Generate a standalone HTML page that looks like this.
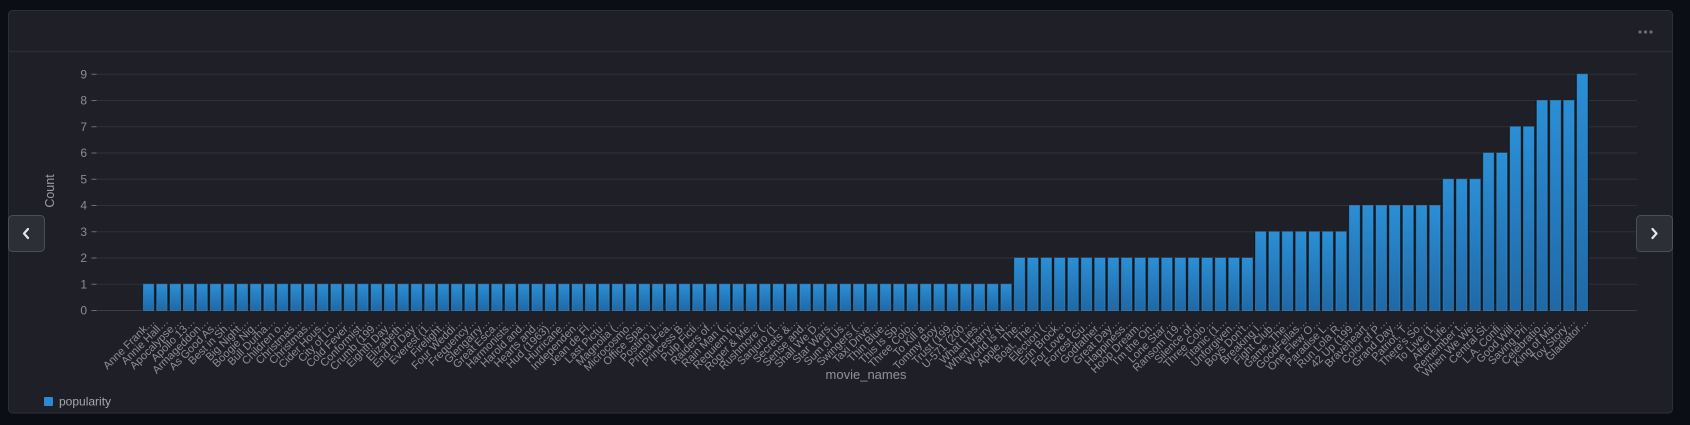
<!DOCTYPE html>
<html><head><meta charset="utf-8"><style>
html,body{margin:0;padding:0;background:#0b0e15;width:1690px;height:425px;overflow:hidden}
svg{display:block}
text{font-family:"Liberation Sans",sans-serif}
.yt{font-size:12px;fill:#8a8d93;text-anchor:end}
.xl{font-size:11px;fill:#8d9096;text-anchor:end}
</style></head><body>
<svg width="1690" height="425" viewBox="0 0 1690 425" xmlns="http://www.w3.org/2000/svg">
<defs>
<linearGradient id="bg" x1="0" y1="0" x2="0" y2="1"><stop offset="0" stop-color="#2b8fd6"/><stop offset="1" stop-color="#2068a6"/></linearGradient>
</defs>
<rect x="0" y="0" width="1690" height="425" fill="#0b0e15"/>
<rect x="8.5" y="10.5" width="1664" height="402.5" rx="4" fill="#1f2027" stroke="#2e3037"/>
<line x1="9" y1="51.5" x2="1672" y2="51.5" stroke="#2b2d34" stroke-width="1.5"/>
<circle cx="1640" cy="32" r="1.6" fill="#6a6d74"/><circle cx="1645.5" cy="32" r="1.6" fill="#6a6d74"/><circle cx="1651" cy="32" r="1.6" fill="#6a6d74"/>
<!-- grid -->
<g stroke="#2f3138" stroke-width="1">
<line x1="96.5" y1="74.25" x2="1637" y2="74.25"/><line x1="96.5" y1="100.5" x2="1637" y2="100.5"/><line x1="96.5" y1="126.75" x2="1637" y2="126.75"/><line x1="96.5" y1="153" x2="1637" y2="153"/><line x1="96.5" y1="179.25" x2="1637" y2="179.25"/><line x1="96.5" y1="205.5" x2="1637" y2="205.5"/><line x1="96.5" y1="231.75" x2="1637" y2="231.75"/><line x1="96.5" y1="258" x2="1637" y2="258"/><line x1="96.5" y1="284.25" x2="1637" y2="284.25"/><line x1="96.5" y1="310.5" x2="1637" y2="310.5" stroke="#3a3c43"/>
</g>
<g stroke="#6b6e75" stroke-width="1">
<line x1="91.5" y1="74.25" x2="96.5" y2="74.25"/><line x1="91.5" y1="100.5" x2="96.5" y2="100.5"/><line x1="91.5" y1="126.75" x2="96.5" y2="126.75"/><line x1="91.5" y1="153" x2="96.5" y2="153"/><line x1="91.5" y1="179.25" x2="96.5" y2="179.25"/><line x1="91.5" y1="205.5" x2="96.5" y2="205.5"/><line x1="91.5" y1="231.75" x2="96.5" y2="231.75"/><line x1="91.5" y1="258" x2="96.5" y2="258"/><line x1="91.5" y1="284.25" x2="96.5" y2="284.25"/><line x1="91.5" y1="310.5" x2="96.5" y2="310.5"/>
</g>
<g class="yt">
<text x="87" y="78.5" class="yt">9</text><text x="87" y="104.7" class="yt">8</text><text x="87" y="131" class="yt">7</text><text x="87" y="157.2" class="yt">6</text><text x="87" y="183.5" class="yt">5</text><text x="87" y="209.7" class="yt">4</text><text x="87" y="236" class="yt">3</text><text x="87" y="262.2" class="yt">2</text><text x="87" y="288.5" class="yt">1</text><text x="87" y="314.7" class="yt">0</text>
</g>
<text transform="translate(54 191) rotate(-90)" text-anchor="middle" font-size="12.5" fill="#9a9ca2">Count</text>
<text x="866" y="379" text-anchor="middle" font-size="13" fill="#8f9298">movie_names</text>
<!-- dark backing -->
<g fill="#0f1924">
<rect x="141.8" y="284.25" width="871" height="26.25"/>
<rect x="1012.8" y="258" width="241.2" height="52.5"/>
<rect x="1254" y="231.75" width="93.8" height="78.75"/>
<rect x="1347.8" y="205.5" width="93.8" height="105"/>
<rect x="1441.6" y="179.25" width="40.2" height="131.25"/>
<rect x="1481.8" y="153" width="26.8" height="157.5"/>
<rect x="1508.6" y="126.75" width="26.8" height="183.75"/>
<rect x="1535.4" y="100.5" width="40.2" height="210"/>
<rect x="1575.6" y="74.25" width="13.4" height="236.25"/>
</g>
<g fill="url(#bg)" stroke="#3f9bd8" stroke-opacity="0.45" stroke-width="1">
<rect x="143.3" y="284.25" width="10.4" height="26.25"/><rect x="156.7" y="284.25" width="10.4" height="26.25"/><rect x="170.1" y="284.25" width="10.4" height="26.25"/><rect x="183.5" y="284.25" width="10.4" height="26.25"/><rect x="196.9" y="284.25" width="10.4" height="26.25"/><rect x="210.3" y="284.25" width="10.4" height="26.25"/><rect x="223.7" y="284.25" width="10.4" height="26.25"/><rect x="237.1" y="284.25" width="10.4" height="26.25"/><rect x="250.5" y="284.25" width="10.4" height="26.25"/><rect x="263.9" y="284.25" width="10.4" height="26.25"/>
<rect x="277.3" y="284.25" width="10.4" height="26.25"/><rect x="290.7" y="284.25" width="10.4" height="26.25"/><rect x="304.1" y="284.25" width="10.4" height="26.25"/><rect x="317.5" y="284.25" width="10.4" height="26.25"/><rect x="330.9" y="284.25" width="10.4" height="26.25"/><rect x="344.3" y="284.25" width="10.4" height="26.25"/><rect x="357.7" y="284.25" width="10.4" height="26.25"/><rect x="371.1" y="284.25" width="10.4" height="26.25"/><rect x="384.5" y="284.25" width="10.4" height="26.25"/><rect x="397.9" y="284.25" width="10.4" height="26.25"/>
<rect x="411.3" y="284.25" width="10.4" height="26.25"/><rect x="424.7" y="284.25" width="10.4" height="26.25"/><rect x="438.1" y="284.25" width="10.4" height="26.25"/><rect x="451.5" y="284.25" width="10.4" height="26.25"/><rect x="464.9" y="284.25" width="10.4" height="26.25"/><rect x="478.3" y="284.25" width="10.4" height="26.25"/><rect x="491.7" y="284.25" width="10.4" height="26.25"/><rect x="505.1" y="284.25" width="10.4" height="26.25"/><rect x="518.5" y="284.25" width="10.4" height="26.25"/><rect x="531.9" y="284.25" width="10.4" height="26.25"/>
<rect x="545.3" y="284.25" width="10.4" height="26.25"/><rect x="558.7" y="284.25" width="10.4" height="26.25"/><rect x="572.1" y="284.25" width="10.4" height="26.25"/><rect x="585.5" y="284.25" width="10.4" height="26.25"/><rect x="598.9" y="284.25" width="10.4" height="26.25"/><rect x="612.3" y="284.25" width="10.4" height="26.25"/><rect x="625.7" y="284.25" width="10.4" height="26.25"/><rect x="639.1" y="284.25" width="10.4" height="26.25"/><rect x="652.5" y="284.25" width="10.4" height="26.25"/><rect x="665.9" y="284.25" width="10.4" height="26.25"/>
<rect x="679.3" y="284.25" width="10.4" height="26.25"/><rect x="692.7" y="284.25" width="10.4" height="26.25"/><rect x="706.1" y="284.25" width="10.4" height="26.25"/><rect x="719.5" y="284.25" width="10.4" height="26.25"/><rect x="732.9" y="284.25" width="10.4" height="26.25"/><rect x="746.3" y="284.25" width="10.4" height="26.25"/><rect x="759.7" y="284.25" width="10.4" height="26.25"/><rect x="773.1" y="284.25" width="10.4" height="26.25"/><rect x="786.5" y="284.25" width="10.4" height="26.25"/><rect x="799.9" y="284.25" width="10.4" height="26.25"/>
<rect x="813.3" y="284.25" width="10.4" height="26.25"/><rect x="826.7" y="284.25" width="10.4" height="26.25"/><rect x="840.1" y="284.25" width="10.4" height="26.25"/><rect x="853.5" y="284.25" width="10.4" height="26.25"/><rect x="866.9" y="284.25" width="10.4" height="26.25"/><rect x="880.3" y="284.25" width="10.4" height="26.25"/><rect x="893.7" y="284.25" width="10.4" height="26.25"/><rect x="907.1" y="284.25" width="10.4" height="26.25"/><rect x="920.5" y="284.25" width="10.4" height="26.25"/><rect x="933.9" y="284.25" width="10.4" height="26.25"/>
<rect x="947.3" y="284.25" width="10.4" height="26.25"/><rect x="960.7" y="284.25" width="10.4" height="26.25"/><rect x="974.1" y="284.25" width="10.4" height="26.25"/><rect x="987.5" y="284.25" width="10.4" height="26.25"/><rect x="1000.9" y="284.25" width="10.4" height="26.25"/>
<rect x="1014.3" y="258" width="10.4" height="52.5"/><rect x="1027.7" y="258" width="10.4" height="52.5"/><rect x="1041.1" y="258" width="10.4" height="52.5"/><rect x="1054.5" y="258" width="10.4" height="52.5"/><rect x="1067.9" y="258" width="10.4" height="52.5"/><rect x="1081.3" y="258" width="10.4" height="52.5"/><rect x="1094.7" y="258" width="10.4" height="52.5"/><rect x="1108.1" y="258" width="10.4" height="52.5"/><rect x="1121.5" y="258" width="10.4" height="52.5"/><rect x="1134.9" y="258" width="10.4" height="52.5"/><rect x="1148.3" y="258" width="10.4" height="52.5"/><rect x="1161.7" y="258" width="10.4" height="52.5"/><rect x="1175.1" y="258" width="10.4" height="52.5"/><rect x="1188.5" y="258" width="10.4" height="52.5"/><rect x="1201.9" y="258" width="10.4" height="52.5"/><rect x="1215.3" y="258" width="10.4" height="52.5"/><rect x="1228.7" y="258" width="10.4" height="52.5"/><rect x="1242.1" y="258" width="10.4" height="52.5"/>
<rect x="1255.5" y="231.75" width="10.4" height="78.75"/><rect x="1268.9" y="231.75" width="10.4" height="78.75"/><rect x="1282.3" y="231.75" width="10.4" height="78.75"/><rect x="1295.7" y="231.75" width="10.4" height="78.75"/><rect x="1309.1" y="231.75" width="10.4" height="78.75"/><rect x="1322.5" y="231.75" width="10.4" height="78.75"/><rect x="1335.9" y="231.75" width="10.4" height="78.75"/>
<rect x="1349.3" y="205.5" width="10.4" height="105"/><rect x="1362.7" y="205.5" width="10.4" height="105"/><rect x="1376.1" y="205.5" width="10.4" height="105"/><rect x="1389.5" y="205.5" width="10.4" height="105"/><rect x="1402.9" y="205.5" width="10.4" height="105"/><rect x="1416.3" y="205.5" width="10.4" height="105"/><rect x="1429.7" y="205.5" width="10.4" height="105"/>
<rect x="1443.1" y="179.25" width="10.4" height="131.25"/><rect x="1456.5" y="179.25" width="10.4" height="131.25"/><rect x="1469.9" y="179.25" width="10.4" height="131.25"/>
<rect x="1483.3" y="153" width="10.4" height="157.5"/><rect x="1496.7" y="153" width="10.4" height="157.5"/>
<rect x="1510.1" y="126.75" width="10.4" height="183.75"/><rect x="1523.5" y="126.75" width="10.4" height="183.75"/>
<rect x="1536.9" y="100.5" width="10.4" height="210"/><rect x="1550.3" y="100.5" width="10.4" height="210"/><rect x="1563.7" y="100.5" width="10.4" height="210"/>
<rect x="1577.1" y="74.25" width="10.4" height="236.25"/>
</g>
<!-- x labels -->
<g class="xl">
<text class="xl" transform="translate(155.5 322) rotate(-45)">Anne Frank…</text>
<text class="xl" transform="translate(168.9 322) rotate(-45)">Annie Hall…</text>
<text class="xl" transform="translate(182.3 322) rotate(-45)">Apocalypse…</text>
<text class="xl" transform="translate(195.7 322) rotate(-45)">Apollo 13…</text>
<text class="xl" transform="translate(209.1 322) rotate(-45)">Armageddon…</text>
<text class="xl" transform="translate(222.5 322) rotate(-45)">As Good As…</text>
<text class="xl" transform="translate(235.9 322) rotate(-45)">Best in Sh…</text>
<text class="xl" transform="translate(249.3 322) rotate(-45)">Big Night…</text>
<text class="xl" transform="translate(262.7 322) rotate(-45)">Boogie Nig…</text>
<text class="xl" transform="translate(276.1 322) rotate(-45)">Bull Durha…</text>
<text class="xl" transform="translate(289.5 322) rotate(-45)">Children o…</text>
<text class="xl" transform="translate(302.9 322) rotate(-45)">Christmas…</text>
<text class="xl" transform="translate(316.3 322) rotate(-45)">Christmas…</text>
<text class="xl" transform="translate(329.7 322) rotate(-45)">Cider Hous…</text>
<text class="xl" transform="translate(343.1 322) rotate(-45)">City of Lo…</text>
<text class="xl" transform="translate(356.5 322) rotate(-45)">Cold Fever…</text>
<text class="xl" transform="translate(369.9 322) rotate(-45)">Conformist…</text>
<text class="xl" transform="translate(383.3 322) rotate(-45)">Crumb (199…</text>
<text class="xl" transform="translate(396.7 322) rotate(-45)">Eighth Day…</text>
<text class="xl" transform="translate(410.1 322) rotate(-45)">Elizabeth…</text>
<text class="xl" transform="translate(423.5 322) rotate(-45)">End of Day…</text>
<text class="xl" transform="translate(436.9 322) rotate(-45)">Everest (1…</text>
<text class="xl" transform="translate(450.3 322) rotate(-45)">Firelight…</text>
<text class="xl" transform="translate(463.7 322) rotate(-45)">Four Weddi…</text>
<text class="xl" transform="translate(477.1 322) rotate(-45)">Frequency…</text>
<text class="xl" transform="translate(490.5 322) rotate(-45)">Glengarry…</text>
<text class="xl" transform="translate(503.9 322) rotate(-45)">Great Esca…</text>
<text class="xl" transform="translate(517.3 322) rotate(-45)">Harmonists…</text>
<text class="xl" transform="translate(530.7 322) rotate(-45)">Harold and…</text>
<text class="xl" transform="translate(544.1 322) rotate(-45)">Hearts and…</text>
<text class="xl" transform="translate(557.5 322) rotate(-45)">Hud (1963)…</text>
<text class="xl" transform="translate(570.9 322) rotate(-45)">Hurricane…</text>
<text class="xl" transform="translate(584.3 322) rotate(-45)">Independen…</text>
<text class="xl" transform="translate(597.7 322) rotate(-45)">Jean de Fl…</text>
<text class="xl" transform="translate(611.1 322) rotate(-45)">Last Pictu…</text>
<text class="xl" transform="translate(624.5 322) rotate(-45)">Magnolia (…</text>
<text class="xl" transform="translate(637.9 322) rotate(-45)">Microcosmo…</text>
<text class="xl" transform="translate(651.3 322) rotate(-45)">Office Spa…</text>
<text class="xl" transform="translate(664.7 322) rotate(-45)">Postino, I…</text>
<text class="xl" transform="translate(678.1 322) rotate(-45)">Primal Fea…</text>
<text class="xl" transform="translate(691.5 322) rotate(-45)">Princess B…</text>
<text class="xl" transform="translate(704.9 322) rotate(-45)">Pulp Ficti…</text>
<text class="xl" transform="translate(718.3 322) rotate(-45)">Raiders of…</text>
<text class="xl" transform="translate(731.7 322) rotate(-45)">Rain Man (…</text>
<text class="xl" transform="translate(745.1 322) rotate(-45)">Requiem fo…</text>
<text class="xl" transform="translate(758.5 322) rotate(-45)">Roger &amp; Me…</text>
<text class="xl" transform="translate(771.9 322) rotate(-45)">Rushmore (…</text>
<text class="xl" transform="translate(785.3 322) rotate(-45)">Sanjuro (1…</text>
<text class="xl" transform="translate(798.7 322) rotate(-45)">Secrets &amp;…</text>
<text class="xl" transform="translate(812.1 322) rotate(-45)">Sense and…</text>
<text class="xl" transform="translate(825.5 322) rotate(-45)">Shall We D…</text>
<text class="xl" transform="translate(838.9 322) rotate(-45)">Star Wars…</text>
<text class="xl" transform="translate(852.3 322) rotate(-45)">Sum of Us…</text>
<text class="xl" transform="translate(865.7 322) rotate(-45)">Swingers (…</text>
<text class="xl" transform="translate(879.1 322) rotate(-45)">Taxi Drive…</text>
<text class="xl" transform="translate(892.5 322) rotate(-45)">Thin Blue…</text>
<text class="xl" transform="translate(905.9 322) rotate(-45)">This Is Sp…</text>
<text class="xl" transform="translate(919.3 322) rotate(-45)">Three Colo…</text>
<text class="xl" transform="translate(932.7 322) rotate(-45)">To Kill a…</text>
<text class="xl" transform="translate(946.1 322) rotate(-45)">Tommy Boy…</text>
<text class="xl" transform="translate(959.5 322) rotate(-45)">Trust (199…</text>
<text class="xl" transform="translate(972.9 322) rotate(-45)">U-571 (200…</text>
<text class="xl" transform="translate(986.3 322) rotate(-45)">What Lies…</text>
<text class="xl" transform="translate(999.7 322) rotate(-45)">When Harry…</text>
<text class="xl" transform="translate(1013.1 322) rotate(-45)">World Is N…</text>
<text class="xl" transform="translate(1026.5 322) rotate(-45)">Apple, The…</text>
<text class="xl" transform="translate(1039.9 322) rotate(-45)">Boat, The…</text>
<text class="xl" transform="translate(1053.3 322) rotate(-45)">Election (…</text>
<text class="xl" transform="translate(1066.7 322) rotate(-45)">Erin Brock…</text>
<text class="xl" transform="translate(1080.1 322) rotate(-45)">For Love o…</text>
<text class="xl" transform="translate(1093.5 322) rotate(-45)">Forrest Gu…</text>
<text class="xl" transform="translate(1106.9 322) rotate(-45)">Godfather…</text>
<text class="xl" transform="translate(1120.3 322) rotate(-45)">Great Day…</text>
<text class="xl" transform="translate(1133.7 322) rotate(-45)">Happiness…</text>
<text class="xl" transform="translate(1147.1 322) rotate(-45)">Hoop Dream…</text>
<text class="xl" transform="translate(1160.5 322) rotate(-45)">I'm the On…</text>
<text class="xl" transform="translate(1173.9 322) rotate(-45)">Lone Star…</text>
<text class="xl" transform="translate(1187.3 322) rotate(-45)">Ransom (19…</text>
<text class="xl" transform="translate(1200.7 322) rotate(-45)">Silence of…</text>
<text class="xl" transform="translate(1214.1 322) rotate(-45)">Three Colo…</text>
<text class="xl" transform="translate(1227.5 322) rotate(-45)">Titanic (1…</text>
<text class="xl" transform="translate(1240.9 322) rotate(-45)">Unforgiven…</text>
<text class="xl" transform="translate(1254.3 322) rotate(-45)">Boys Don't…</text>
<text class="xl" transform="translate(1267.7 322) rotate(-45)">Breaking I…</text>
<text class="xl" transform="translate(1281.1 322) rotate(-45)">Fight Club…</text>
<text class="xl" transform="translate(1294.5 322) rotate(-45)">Game, The…</text>
<text class="xl" transform="translate(1307.9 322) rotate(-45)">GoodFellas…</text>
<text class="xl" transform="translate(1321.3 322) rotate(-45)">One Flew O…</text>
<text class="xl" transform="translate(1334.7 322) rotate(-45)">Paradise L…</text>
<text class="xl" transform="translate(1348.1 322) rotate(-45)">Run Lola R…</text>
<text class="xl" transform="translate(1361.5 322) rotate(-45)">42 Up (199…</text>
<text class="xl" transform="translate(1374.9 322) rotate(-45)">Braveheart…</text>
<text class="xl" transform="translate(1388.3 322) rotate(-45)">Color of P…</text>
<text class="xl" transform="translate(1401.7 322) rotate(-45)">Grand Day…</text>
<text class="xl" transform="translate(1415.1 322) rotate(-45)">Patriot, T…</text>
<text class="xl" transform="translate(1428.5 322) rotate(-45)">There's So…</text>
<text class="xl" transform="translate(1441.9 322) rotate(-45)">To Live (1…</text>
<text class="xl" transform="translate(1455.3 322) rotate(-45)">After Life…</text>
<text class="xl" transform="translate(1468.7 322) rotate(-45)">Remember t…</text>
<text class="xl" transform="translate(1482.1 322) rotate(-45)">When We We…</text>
<text class="xl" transform="translate(1495.5 322) rotate(-45)">Central St…</text>
<text class="xl" transform="translate(1508.9 322) rotate(-45)">L.A. Confi…</text>
<text class="xl" transform="translate(1522.3 322) rotate(-45)">Good Will…</text>
<text class="xl" transform="translate(1535.7 322) rotate(-45)">Saving Pri…</text>
<text class="xl" transform="translate(1549.1 322) rotate(-45)">Celebratio…</text>
<text class="xl" transform="translate(1562.5 322) rotate(-45)">King of Ma…</text>
<text class="xl" transform="translate(1575.9 322) rotate(-45)">Toy Story…</text>
<text class="xl" transform="translate(1589.3 322) rotate(-45)">Gladiator…</text>
</g>
<!-- legend -->
<rect x="44" y="397" width="9" height="9" rx="1" fill="#2a8bd2"/>
<text x="59" y="405.5" font-size="12" fill="#a6a8ad">popularity</text>
<!-- nav buttons -->
<rect x="8.5" y="215.5" width="36" height="36" rx="4" fill="#2c2f36" stroke="#4a4e56"/>
<polyline points="28,229 24,233.5 28,238" fill="none" stroke="#e6e7ea" stroke-width="2.2" stroke-linecap="round" stroke-linejoin="round"/>
<rect x="1636.5" y="215.5" width="36" height="36" rx="4" fill="#2c2f36" stroke="#4a4e56"/>
<polyline points="1652.5,229 1656.5,233.5 1652.5,238" fill="none" stroke="#e6e7ea" stroke-width="2.2" stroke-linecap="round" stroke-linejoin="round"/>
</svg>
</body></html>
